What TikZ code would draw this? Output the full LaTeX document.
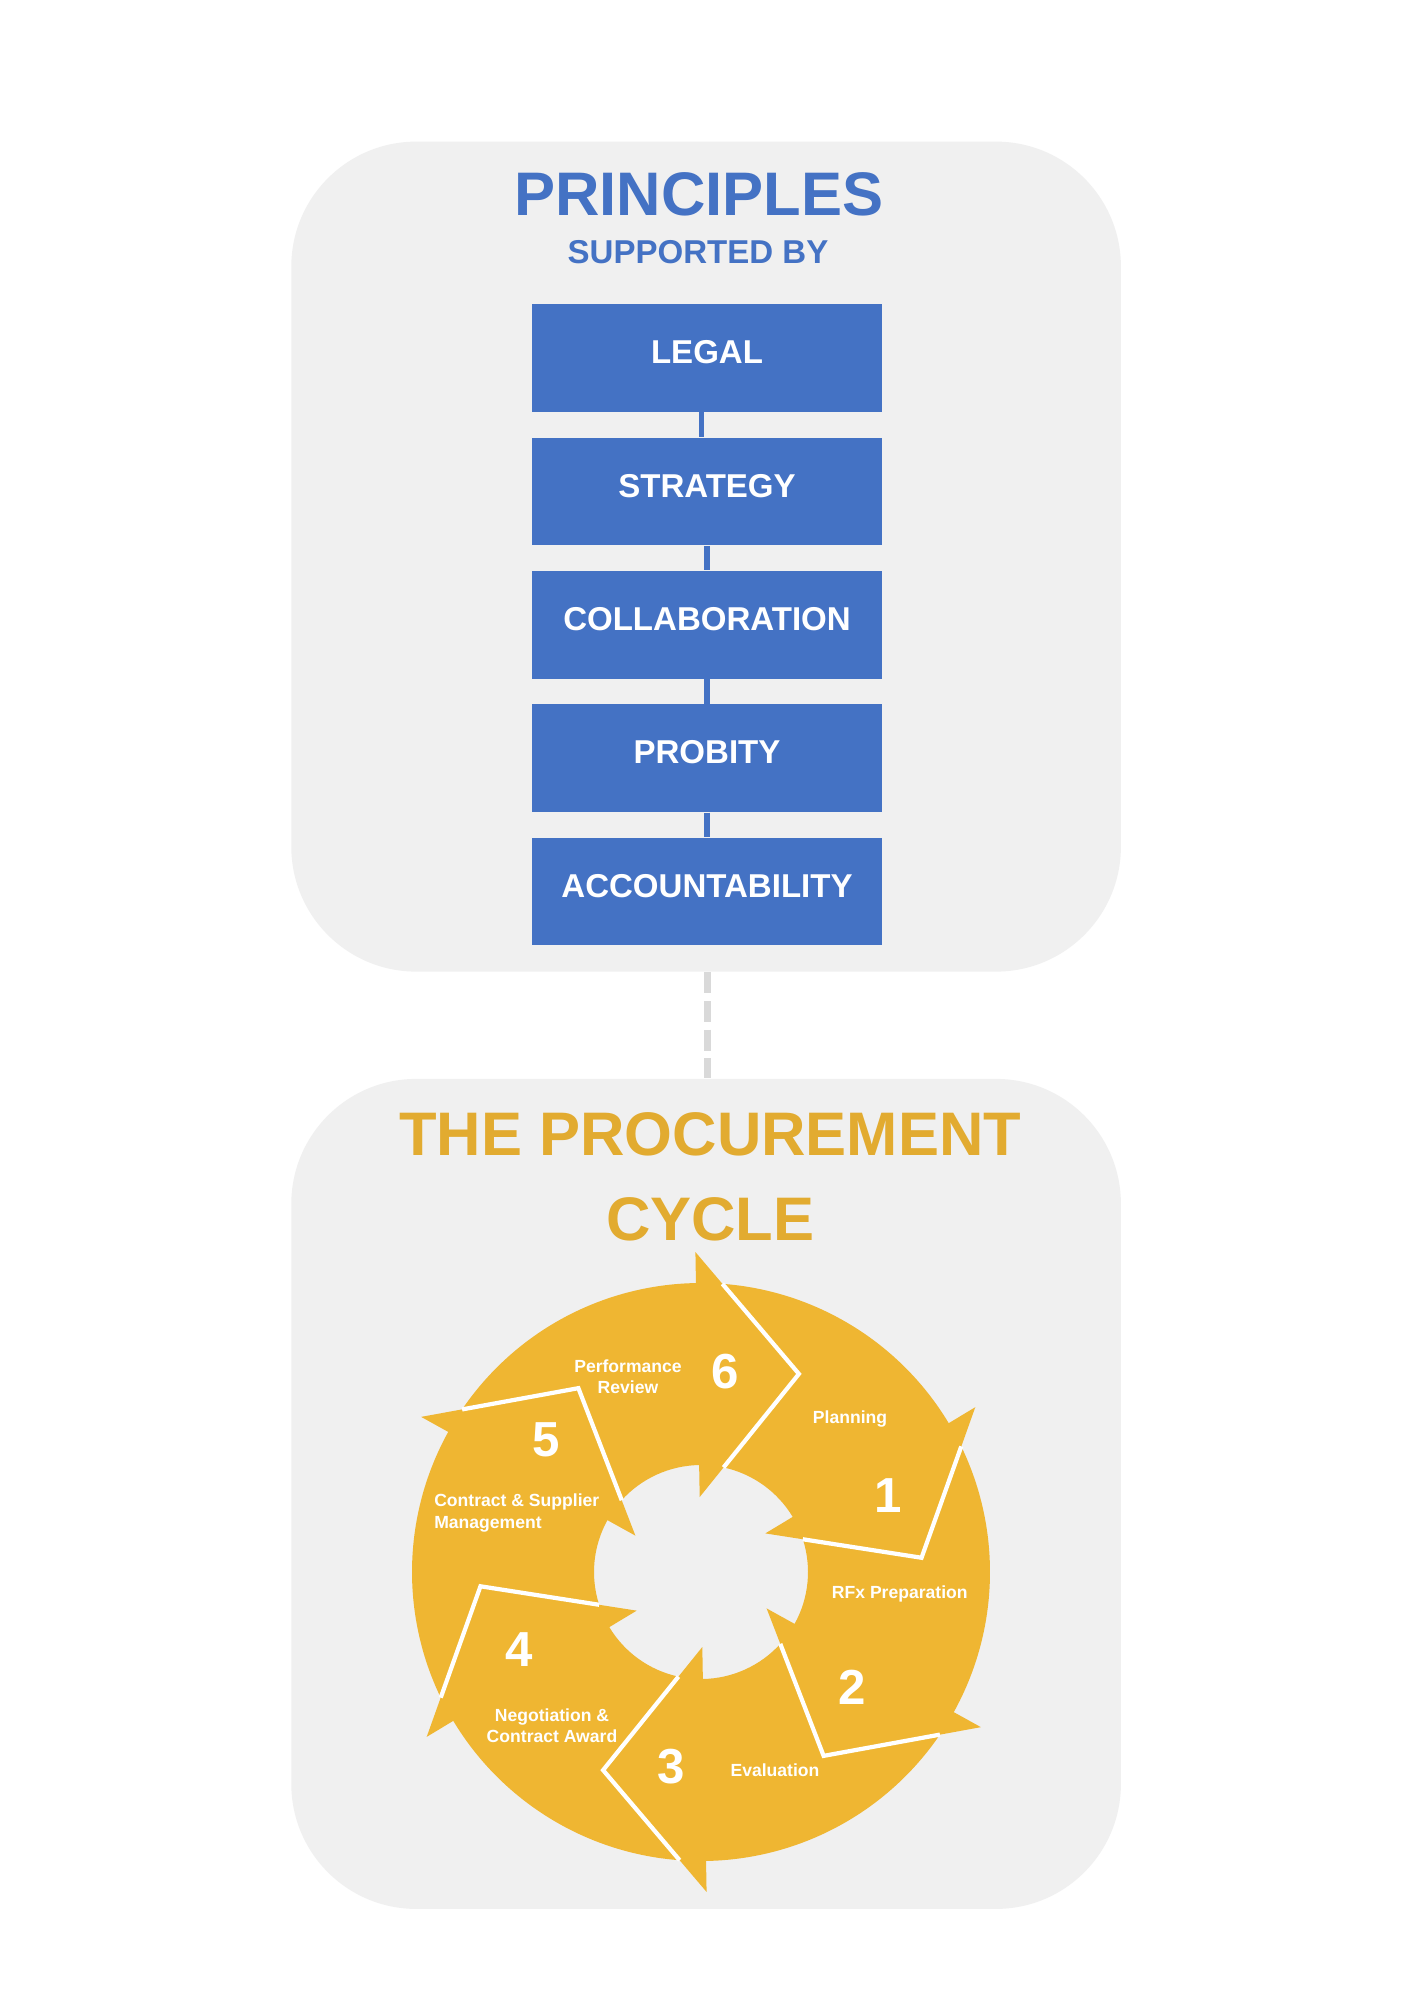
\documentclass[tikz,border=0pt]{standalone}
\usepackage{fontspec}
\setmainfont{Liberation Sans}
\usepackage{tikz}
\usetikzlibrary{positioning,calc}
\definecolor{pblue}{HTML}{4472C4}
\definecolor{pgold}{HTML}{E2AB30}
\definecolor{pyellow}{HTML}{EFB632}
\definecolor{pgray}{HTML}{F0F0F0}
\definecolor{pdash}{HTML}{D9D9D9}

\begin{document}
\begin{tikzpicture}[
		panel/.style={fill=pgray,rounded corners=1.25cm,minimum width=8.296cm,minimum height=8.3cm,inner sep=0pt},
		pbox/.style={fill=pblue,minimum width=3.5cm,minimum height=1.075cm,inner sep=0pt,text=white,text height=0.234cm,text depth=0.12cm,font=\fontsize{9.4}{11}\selectfont\bfseries},
		plink/.style={draw=pblue,line width=1.5pt},
		seg/.style={fill=pyellow},
		segedge/.style={draw=white,line width=1.2pt,line join=miter},
		steplabel/.style={text=white,font=\fontsize{5}{6}\selectfont\bfseries,inner sep=0pt},
		stepnum/.style={text=white,font=\fontsize{14}{16}\selectfont\bfseries,inner sep=0pt}]
		\useasboundingbox (0,0) rectangle (14.14,-20);
		\fill[white] (0,0) rectangle (14.14,-20);
		
		\node[panel] (toppanel) at (7.061,-5.566) {};
		\node[panel] (cyclepanel) at (7.061,-14.939) {};
		
		\node[anchor=base,text=pblue,font=\fontsize{17.5}{20}\selectfont\bfseries] (title) at (6.99,-2.15) {PRINCIPLES};
		\node[anchor=base,text=pblue,font=\fontsize{9.4}{11}\selectfont\bfseries] (subtitle) at (6.98,-2.633) {SUPPORTED BY};
		
		\node[pbox] (legal) at (7.07,-3.58) {LEGAL};
		\node[pbox,below=0.245cm of legal] (strategy) {STRATEGY};
		\node[pbox,below=0.245cm of strategy] (collab) {COLLABORATION};
		\node[pbox,below=0.245cm of collab] (probity) {PROBITY};
		\node[pbox,below=0.245cm of probity] (account) {ACCOUNTABILITY};
		
		\draw[plink] ([xshift=-0.055cm]legal.south)--([xshift=-0.055cm]strategy.north);
		\draw[plink] (strategy.south)--(collab.north);
		\draw[plink] (collab.south)--(probity.north);
		\draw[plink] (probity.south)--(account.north);
		
		\draw[draw=pdash,line width=2pt,dash pattern=on 0.21cm off 0.077cm] ([xshift=0.01cm]toppanel.south)--([xshift=0.01cm]cyclepanel.north);
		
		\node[anchor=base,text=pgold,font=\fontsize{17.5}{20}\selectfont\bfseries] (cycletitle) at (7.103,-11.55) {THE PROCUREMENT};
		\node[anchor=base,text=pgold,font=\fontsize{17.5}{20}\selectfont\bfseries] (cycletitleb) at (7.103,-12.40) {CYCLE};
		
		\begin{scope}[shift={(7.01,-15.72)}]
			\foreach \b in {91,31,-29,-89,-149,-209}{
				\pgfmathsetmacro{\s}{\b+60}
				\fill[seg] (\s-5.24:2.89) arc[start angle=\s-5.24,end angle=\b,radius=2.89] -- (\b:3.2) -- (\b-27.3:2.21) -- (\b:0.75) -- (\b:1.07) arc[start angle=\b,end angle=\s-13.17,radius=1.07] -- (\s-27.3:2.21) -- cycle;
			}
			\foreach \b in {91,31,-29,-89,-149,-209}{
				\draw[segedge] (\b-5.24:2.89) -- (\b-27.3:2.21) -- (\b-13.17:1.07);
			}
		\end{scope}
		
		\node[steplabel,anchor=base] (planning) at (8.50,-14.23) {Planning};
		\node[stepnum] (numa) at (8.879,-14.958) {1};
		\node[steplabel,anchor=base] (rfx) at (8.998,-15.985) {RFx Preparation};
		\node[stepnum] (numb) at (8.525,-16.869) {2};
		\node[steplabel,anchor=base] (evaluation) at (7.75,-17.76) {Evaluation};
		\node[stepnum] (numc) at (6.707,-17.668) {3};
		\node[steplabel,align=center] (negotiation) at (5.52,-17.258) {Negotiation \&\\Contract Award};
		\node[stepnum] (numd) at (5.188,-16.498) {4};
		\node[steplabel,align=left,anchor=west] (management) at (4.336,-15.13) {Contract \& Supplier\\Management};
		\node[stepnum] (nume) at (5.458,-14.396) {5};
		\node[steplabel,align=center] (review) at (6.28,-13.767) {Performance\\Review};
		\node[stepnum] (numf) at (7.248,-13.72) {6};
	\end{tikzpicture}
\end{document}
